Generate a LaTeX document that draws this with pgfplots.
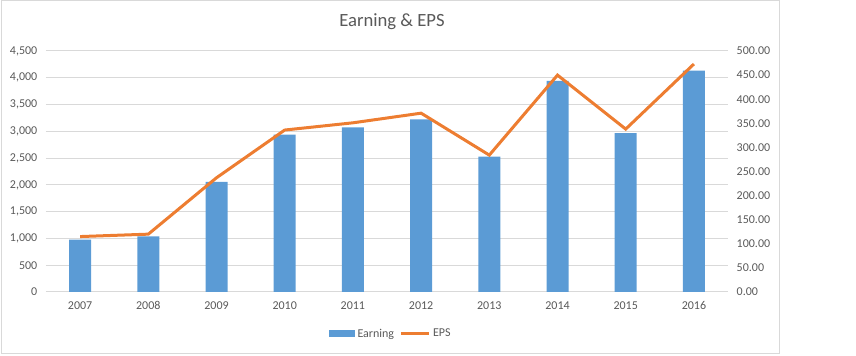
\documentclass[border=0pt]{standalone}
\usepackage{pgfplots}
\pgfplotsset{compat=1.18}
\usepackage{fontspec}
\setmainfont{Carlito}
\definecolor{barblue}{HTML}{5B9BD5}
\definecolor{lineorange}{HTML}{ED7D31}
\definecolor{txt}{HTML}{595959}
\definecolor{gridc}{HTML}{D9D9D9}
\pgfplotsset{
  common/.style={
    scale only axis, width=511.5pt, height=180.75pt,
    at={(34.5pt,48pt)}, anchor=south west,
    xmin=-0.5, xmax=9.5,
    tick style={draw=none}, major tick length=0pt,
    ticklabel style={font=\fontsize{9}{11}\selectfont, text=txt},
    /pgf/number format/assume math mode=true,
  }
}
\begin{document}
\begin{tikzpicture}[x=0.75pt,y=0.75pt]
\useasboundingbox (0,0) rectangle (856,356);
\draw[gridc, line width=0.75pt] (1,2) rectangle (779,355);
\node[font=\fontsize{14}{16}\selectfont, text=txt] at (392,334) {Earning \& EPS};
\begin{axis}[common,
  ymin=0, ymax=4500, ytick={0,500,...,4500},
  xtick={0,...,9}, xticklabels={2007,2008,2009,2010,2011,2012,2013,2014,2015,2016},
  axis line style={draw=none},
  ymajorgrids, major grid style={gridc, line width=0.75pt},
  yticklabel style={xshift=-3pt, /pgf/number format/fixed, /pgf/number format/1000 sep={,}},
  xticklabel style={yshift=-3.5pt},
  legend columns=2,
  legend style={draw=none, fill=none, at={(0.506,-0.174)}, anchor=center,
    font=\fontsize{9}{11}\selectfont, text=txt,
    /tikz/every even column/.append style={column sep=2pt}},
]
\addplot[ybar, bar width=16.5pt, fill=barblue, draw=none,
  legend image code/.code={\fill[barblue] (0pt,-2.6pt) rectangle (19.5pt,2.6pt);}]
  coordinates {(0,980) (1,1040) (2,2055) (3,2940) (4,3075) (5,3225) (6,2530) (7,3940) (8,2965) (9,4135)};
\addlegendentry{Earning}
\addlegendimage{legend image code/.code={\draw[lineorange, line width=2.25pt] (0pt,0pt) -- (21pt,0pt);}}
\addlegendentry{EPS}
\end{axis}
\begin{axis}[common,
  axis y line*=right, axis x line=none,
  y axis line style={draw=none},
  ymin=0, ymax=500, ytick={0,50,...,500},
  yticklabel style={xshift=3pt, /pgf/number format/fixed, /pgf/number format/fixed zerofill, /pgf/number format/precision=2},
]
\addplot[lineorange, line width=2.25pt, mark=none]
  coordinates {(0,115) (1,120) (2,237) (3,336) (4,351) (5,371) (6,284) (7,450) (8,338) (9,473)};
\end{axis}
\end{tikzpicture}
\end{document}
